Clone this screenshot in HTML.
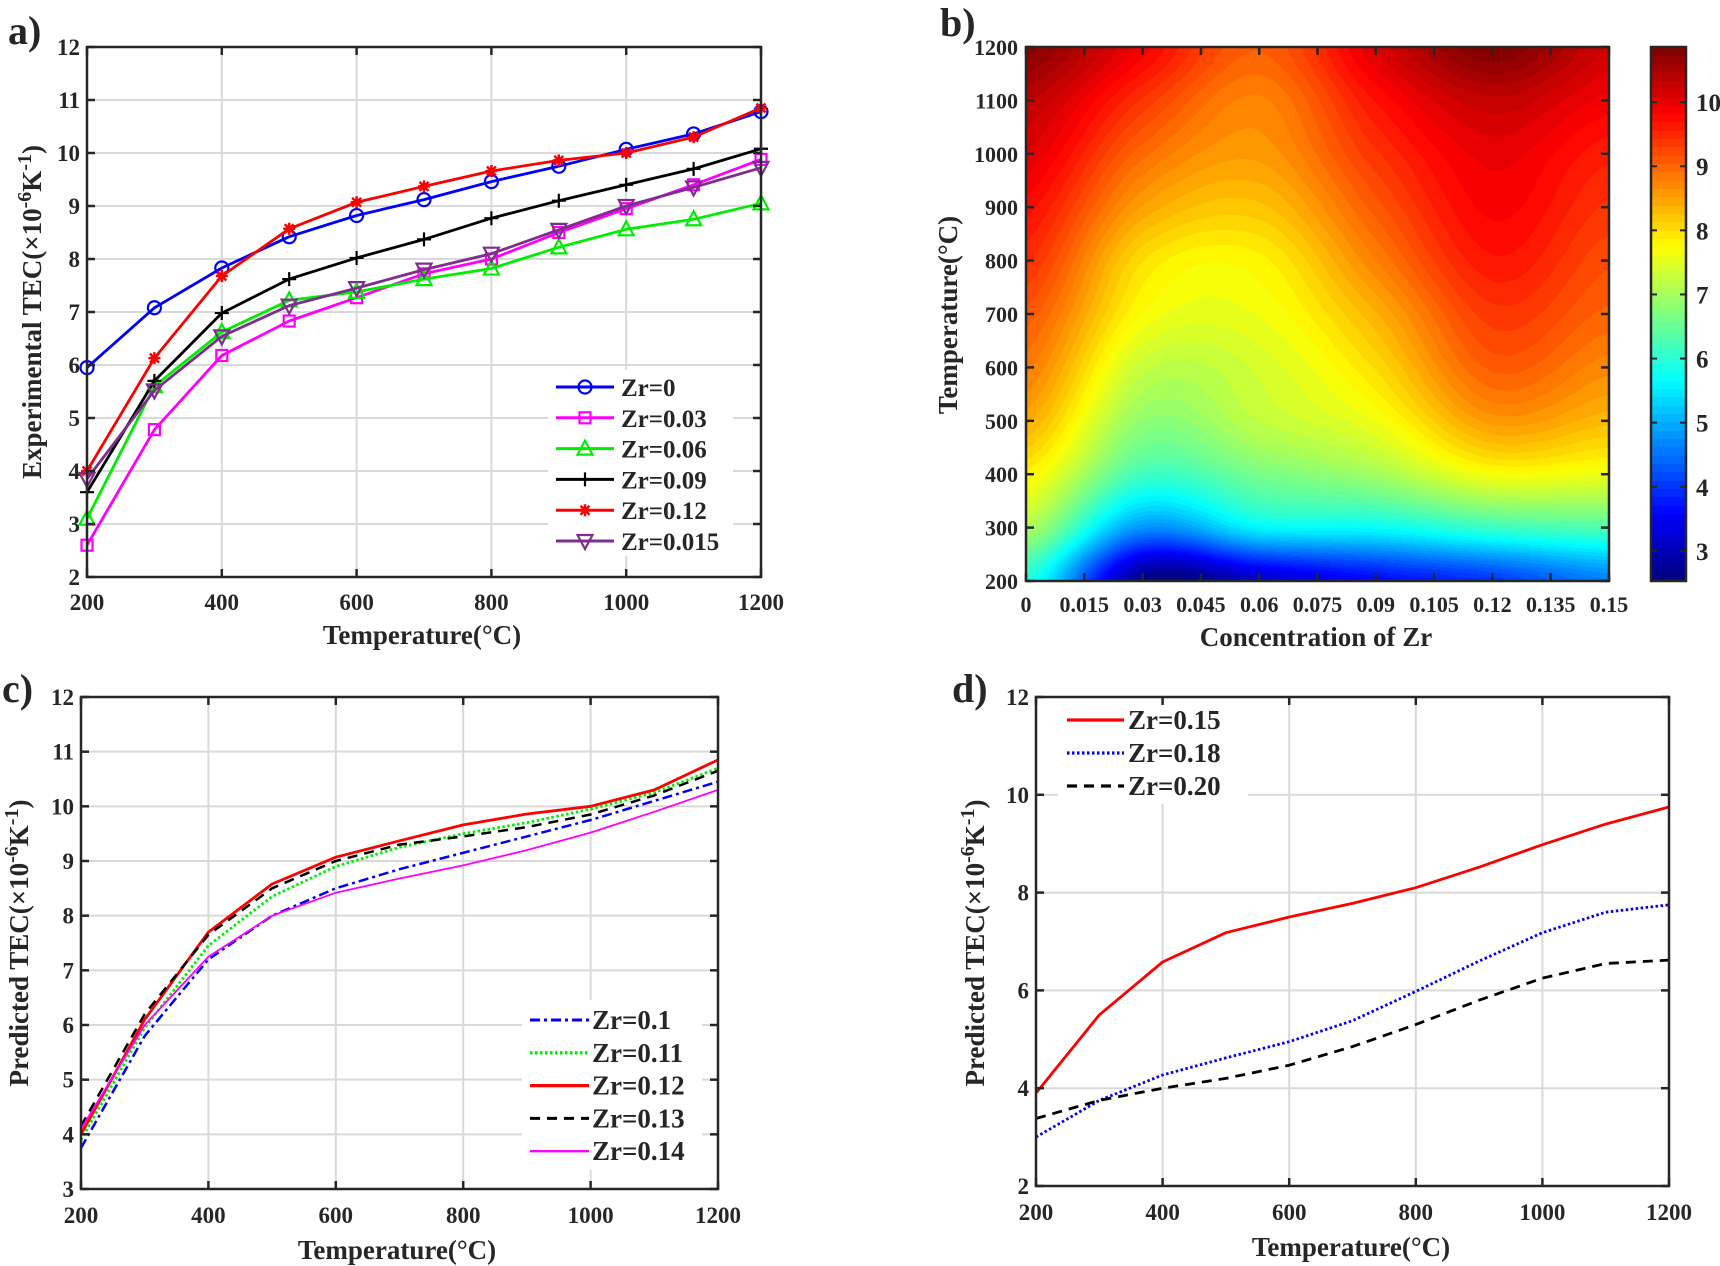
<!DOCTYPE html>
<html><head><meta charset="utf-8"><style>
html,body{margin:0;padding:0;background:#fff;}
#wrap{position:relative;width:1720px;height:1266px;overflow:hidden;background:#fff;}
canvas,svg{position:absolute;left:0;top:0;}
text{font-family:"Liberation Serif",serif;font-weight:bold;fill:#262626;}
</style></head><body>
<div id="wrap">
<canvas id="hm" width="1720" height="1266"></canvas>
<svg id="s" width="1720" height="1266" xmlns="http://www.w3.org/2000/svg">
<text x="8" y="44" font-size="40">a)</text>
<text x="940" y="36" font-size="40">b)</text>
<text x="2" y="702" font-size="40">c)</text>
<text x="952" y="702" font-size="40">d)</text>
<text font-size="27" text-anchor="middle" transform="translate(41,312) rotate(-90)">Experimental TEC(×10<tspan dy="-10" font-size="20">-6</tspan><tspan dy="10">K</tspan><tspan dy="-10" font-size="20">-1</tspan><tspan dy="10">)</tspan></text>
<text font-size="27" text-anchor="middle" transform="translate(28,943) rotate(-90)">Predicted TEC(×10<tspan dy="-10" font-size="20">-6</tspan><tspan dy="10">K</tspan><tspan dy="-10" font-size="20">-1</tspan><tspan dy="10">)</tspan></text>
<text font-size="27" text-anchor="middle" transform="translate(984,943) rotate(-90)">Predicted TEC(×10<tspan dy="-10" font-size="20">-6</tspan><tspan dy="10">K</tspan><tspan dy="-10" font-size="20">-1</tspan><tspan dy="10">)</tspan></text>
<text font-size="27" text-anchor="middle" transform="translate(957,315) rotate(-90)">Temperature(°C)</text>
<text x="422" y="644" font-size="27" text-anchor="middle">Temperature(°C)</text>
<text x="397" y="1259" font-size="27" text-anchor="middle">Temperature(°C)</text>
<text x="1351" y="1256" font-size="27" text-anchor="middle">Temperature(°C)</text>
<text x="1316" y="646" font-size="27" text-anchor="middle">Concentration of Zr</text>
</svg>
</div>
<script>
var S=document.getElementById('s'),NS='http://www.w3.org/2000/svg';
function el(t,a,txt){var e=document.createElementNS(NS,t);for(var k in a)e.setAttribute(k,a[k]);if(txt!==undefined)e.textContent=txt;S.appendChild(e);return e;}
var T=[200,300,400,500,600,700,800,900,1000,1100,1200];
function axes(o){
 o.px=function(t){return o.x0+(t-200)/1000*(o.x1-o.x0);};
 o.py=function(v){return o.y1-(v-o.vmin)/(o.vmax-o.vmin)*(o.y1-o.y0);};
 for(var t=400;t<1200;t+=200)el('line',{x1:o.px(t),x2:o.px(t),y1:o.y0,y2:o.y1,stroke:'#d9d9d9','stroke-width':2});
 o.yt.forEach(function(v){if(v>o.vmin&&v<o.vmax)el('line',{x1:o.x0,x2:o.x1,y1:o.py(v),y2:o.py(v),stroke:'#d9d9d9','stroke-width':2});});
}
function frame(o){
 el('rect',{x:o.x0,y:o.y0,width:o.x1-o.x0,height:o.y1-o.y0,fill:'none',stroke:'#262626','stroke-width':2.5});
 for(var t=200;t<=1200;t+=200){var x=o.px(t);
  el('line',{x1:x,x2:x,y1:o.y1,y2:o.y1-8,stroke:'#262626','stroke-width':2.5});
  el('line',{x1:x,x2:x,y1:o.y0,y2:o.y0+8,stroke:'#262626','stroke-width':2.5});
  el('text',{x:x,y:o.xly,'font-size':23,'text-anchor':'middle'},t);}
 o.yt.forEach(function(v){var y=o.py(v);
  el('line',{x1:o.x0,x2:o.x0+8,y1:y,y2:y,stroke:'#262626','stroke-width':2.5});
  el('line',{x1:o.x1,x2:o.x1-8,y1:y,y2:y,stroke:'#262626','stroke-width':2.5});
  el('text',{x:o.x0-7,y:y+8,'font-size':23,'text-anchor':'end'},v);});
}
function line(o,d,col,w,dash){
 var p=d.map(function(v,i){return (i?'L':'M')+o.px(T[i]).toFixed(1)+','+o.py(v).toFixed(1);}).join('');
 var a={d:p,fill:'none',stroke:col,'stroke-width':w,'stroke-linejoin':'round'};if(dash)a['stroke-dasharray']=dash;el('path',a);
}
function marker(x,y,m,col){
 var a={fill:'none',stroke:col,'stroke-width':2.2};
 if(m=='o'){a.cx=x;a.cy=y;a.r=6.5;el('circle',a);}
 else if(m=='s'){a.x=x-5.5;a.y=y-5.5;a.width=11;a.height=11;el('rect',a);}
 else if(m=='^'){a.points=(x)+','+(y-8)+' '+(x-7.5)+','+(y+6)+' '+(x+7.5)+','+(y+6);el('polygon',a);}
 else if(m=='v'){a.points=(x)+','+(y+8)+' '+(x-7.5)+','+(y-6)+' '+(x+7.5)+','+(y-6);el('polygon',a);}
 else if(m=='+'){a.d='M'+(x-7)+','+y+'h14M'+x+','+(y-7)+'v14';el('path',a);}
 else if(m=='*'){a.d='M'+(x-6)+','+y+'h12M'+x+','+(y-6)+'v12M'+(x-4.5)+','+(y-4.5)+'l9,9M'+(x+4.5)+','+(y-4.5)+'l-9,9';a['stroke-width']=2.5;el('path',a);}
}
// Panel a
var A={x0:87,x1:761,y0:47,y1:577,vmin:2,vmax:12,yt:[2,3,4,5,6,7,8,9,10,11,12],xly:610};
axes(A);
var sa=[
 [[5.95,7.08,7.83,8.42,8.82,9.12,9.46,9.75,10.07,10.36,10.78],'#0000ff','o','Zr=0'],
 [[2.6,4.78,6.18,6.83,7.27,7.72,8.0,8.5,8.95,9.4,9.88],'#ff00ff','s','Zr=0.03'],
 [[3.1,5.6,6.62,7.22,7.38,7.62,7.82,8.22,8.56,8.75,9.05],'#00ee00','^','Zr=0.06'],
 [[3.6,5.7,6.98,7.62,8.02,8.37,8.77,9.1,9.4,9.7,10.08],'#000000','+','Zr=0.09'],
 [[4.0,6.13,7.68,8.57,9.07,9.37,9.66,9.86,10.0,10.3,10.85],'#ff0000','*','Zr=0.12'],
 [[3.85,5.52,6.54,7.12,7.45,7.8,8.1,8.55,9.0,9.35,9.72],'#7e2f8e','v','Zr=0.015']];
el('rect',{x:548,y:370,width:185,height:186,fill:'#fff'});
sa.forEach(function(s){line(A,s[0],s[1],2.8);s[0].forEach(function(v,i){marker(A.px(T[i]),A.py(v),s[2],s[1]);});});
sa.forEach(function(s,i){var y=387+i*30.8;el('line',{x1:556,x2:614,y1:y,y2:y,stroke:s[1],'stroke-width':3});marker(585,y,s[2],s[1]);
 el('text',{x:621,y:y+9,'font-size':25},s[3]);});
frame(A);
// Panel c
var C={x0:81,x1:718,y0:697,y1:1189,vmin:3,vmax:12,yt:[3,4,5,6,7,8,9,10,11,12],xly:1223};
axes(C);
var sc=[
 [[3.75,5.8,7.2,8.0,8.5,8.85,9.15,9.45,9.75,10.1,10.45],'#0000ff',2.5,'10,4,3,4','Zr=0.1'],
 [[3.9,5.95,7.45,8.35,8.9,9.25,9.5,9.7,9.95,10.25,10.7],'#00ee00',2.8,'2.5,2.5','Zr=0.11'],
 [[4.0,6.1,7.7,8.58,9.07,9.37,9.66,9.86,10.0,10.3,10.85],'#ff0000',2.8,null,'Zr=0.12'],
 [[4.15,6.2,7.65,8.5,9.0,9.3,9.45,9.62,9.85,10.2,10.65],'#000000',2.5,'10,7','Zr=0.13'],
 [[4.1,6.0,7.25,8.0,8.42,8.68,8.92,9.2,9.52,9.9,10.3],'#ff00ff',1.8,null,'Zr=0.14']];
el('rect',{x:522,y:1000,width:180,height:170,fill:'#fff'});
sc.forEach(function(s){line(C,s[0],s[1],s[2],s[3]);});
sc.forEach(function(s,i){var y=1020+i*32.8;var a={x1:530,x2:589,y1:y,y2:y,stroke:s[1],'stroke-width':s[2]+0.5};if(s[3])a['stroke-dasharray']=s[3];el('line',a);
 el('text',{x:592,y:y+9,'font-size':27},s[4]);});
frame(C);
// Panel d
var D={x0:1036,x1:1669,y0:697,y1:1186,vmin:2,vmax:12,yt:[2,4,6,8,10,12],xly:1220};
axes(D);
var sd=[
 [[3.9,5.5,6.58,7.18,7.5,7.78,8.1,8.52,8.98,9.4,9.75],'#ff0000',2.8,null,'Zr=0.15'],
 [[3.0,3.75,4.27,4.62,4.95,5.38,5.98,6.6,7.18,7.6,7.75],'#0000ff',2.8,'2.5,2.5','Zr=0.18'],
 [[3.38,3.75,4.0,4.2,4.47,4.85,5.3,5.8,6.25,6.55,6.62],'#000000',2.8,'10,7','Zr=0.20']];
el('rect',{x:1058,y:704,width:190,height:100,fill:'#fff'});
sd.forEach(function(s){line(D,s[0],s[1],s[2],s[3]);});
sd.forEach(function(s,i){var y=720+i*33;var a={x1:1067,x2:1124,y1:y,y2:y,stroke:s[1],'stroke-width':s[2]+0.5};if(s[3])a['stroke-dasharray']=s[3];el('line',a);
 el('text',{x:1128,y:y+9,'font-size':27},s[4]);});
frame(D);
// Panel b heatmap
var conc=[0,0.03,0.06,0.09,0.12,0.15];
var dat=[sa[0][0],sa[1][0],sa[2][0],sa[3][0],sa[4][0],[4.6,6.3,7.6,8.3,8.7,9.0,9.2,9.4,9.6,9.9,10.2]];
function cr(p0,p1,p2,p3,u){return 0.5*((2*p1)+(-p0+p2)*u+(2*p0-5*p1+4*p2-p3)*u*u+(-p0+3*p1-3*p2+p3)*u*u*u);}
function tval(r,t){var k=Math.min(9,Math.floor((t-200)/100));var w=(t-200)/100-k;var d=dat[r];
 return cr(d[Math.max(0,k-1)],d[k],d[k+1],d[Math.min(10,k+2)],w);}
function field(c,t){var j=Math.min(4,Math.floor(c/0.03));var u=c/0.03-j;
 var n=conc.length-1;
 return cr(tval(Math.max(0,j-1),t),tval(j,t),tval(j+1,t),tval(Math.min(n,j+2),t),u);}
function jet(v){var r=Math.min(4*v-1.5,-4*v+4.5),g=Math.min(4*v-0.5,-4*v+3.5),b=Math.min(4*v+0.5,-4*v+2.5);
 function cl(x){return Math.round(255*Math.max(0,Math.min(1,x)));}return [cl(r),cl(g),cl(b)];}
var vmin=2.53,vmax=10.86;
var cv=document.getElementById('hm').getContext('2d');
var bx0=1026,bx1=1609,by0=47,by1=581;
var img=cv.createImageData(bx1-bx0,by1-by0);
for(var y=0;y<by1-by0;y++)for(var x=0;x<bx1-bx0;x++){
 var c=x/(bx1-bx0-1)*0.15,t=1200-y/(by1-by0-1)*1000;var v=field(c,t);
 var q=(v-vmin)/(vmax-vmin);q=Math.floor(q*64)/64+1/128;var col=jet(q);var i=4*(y*(bx1-bx0)+x);
 img.data[i]=col[0];img.data[i+1]=col[1];img.data[i+2]=col[2];img.data[i+3]=255;}
cv.putImageData(img,bx0,by0);
var cbx0=1651,cbx1=1686;
var img2=cv.createImageData(cbx1-cbx0,by1-by0);
for(var y=0;y<by1-by0;y++){var q=1-y/(by1-by0-1);q=Math.floor(q*64)/64+1/128;var col=jet(q);
 for(var x=0;x<cbx1-cbx0;x++){var i=4*(y*(cbx1-cbx0)+x);img2.data[i]=col[0];img2.data[i+1]=col[1];img2.data[i+2]=col[2];img2.data[i+3]=255;}}
cv.putImageData(img2,cbx0,by0);
el('rect',{x:bx0,y:by0,width:bx1-bx0,height:by1-by0,fill:'none',stroke:'#262626','stroke-width':2.5});
el('rect',{x:cbx0,y:by0,width:cbx1-cbx0,height:by1-by0,fill:'none',stroke:'#262626','stroke-width':2.5});
var xl=['0','0.015','0.03','0.045','0.06','0.075','0.09','0.105','0.12','0.135','0.15'];
xl.forEach(function(s,i){var x=bx0+i/10*(bx1-bx0);
 el('line',{x1:x,x2:x,y1:by1,y2:by1-8,stroke:'#262626','stroke-width':2.5});
 el('line',{x1:x,x2:x,y1:by0,y2:by0+8,stroke:'#262626','stroke-width':2.5});
 el('text',{x:x,y:612,'font-size':22,'text-anchor':'middle'},s);});
for(var t=200;t<=1200;t+=100){var y=by1-(t-200)/1000*(by1-by0);
 el('line',{x1:bx0,x2:bx0+8,y1:y,y2:y,stroke:'#262626','stroke-width':2.5});
 el('line',{x1:bx1,x2:bx1-8,y1:y,y2:y,stroke:'#262626','stroke-width':2.5});
 el('text',{x:1018,y:y+8,'font-size':22,'text-anchor':'end'},t);}
for(var v=3;v<=10;v++){var y=by1-(v-vmin)/(vmax-vmin)*(by1-by0);
 el('line',{x1:cbx0,x2:cbx0+6,y1:y,y2:y,stroke:'#262626','stroke-width':2});
 el('line',{x1:cbx1,x2:cbx1-6,y1:y,y2:y,stroke:'#262626','stroke-width':2});
 el('text',{x:1696,y:y+9,'font-size':25},v);}
</script>
</body></html>
